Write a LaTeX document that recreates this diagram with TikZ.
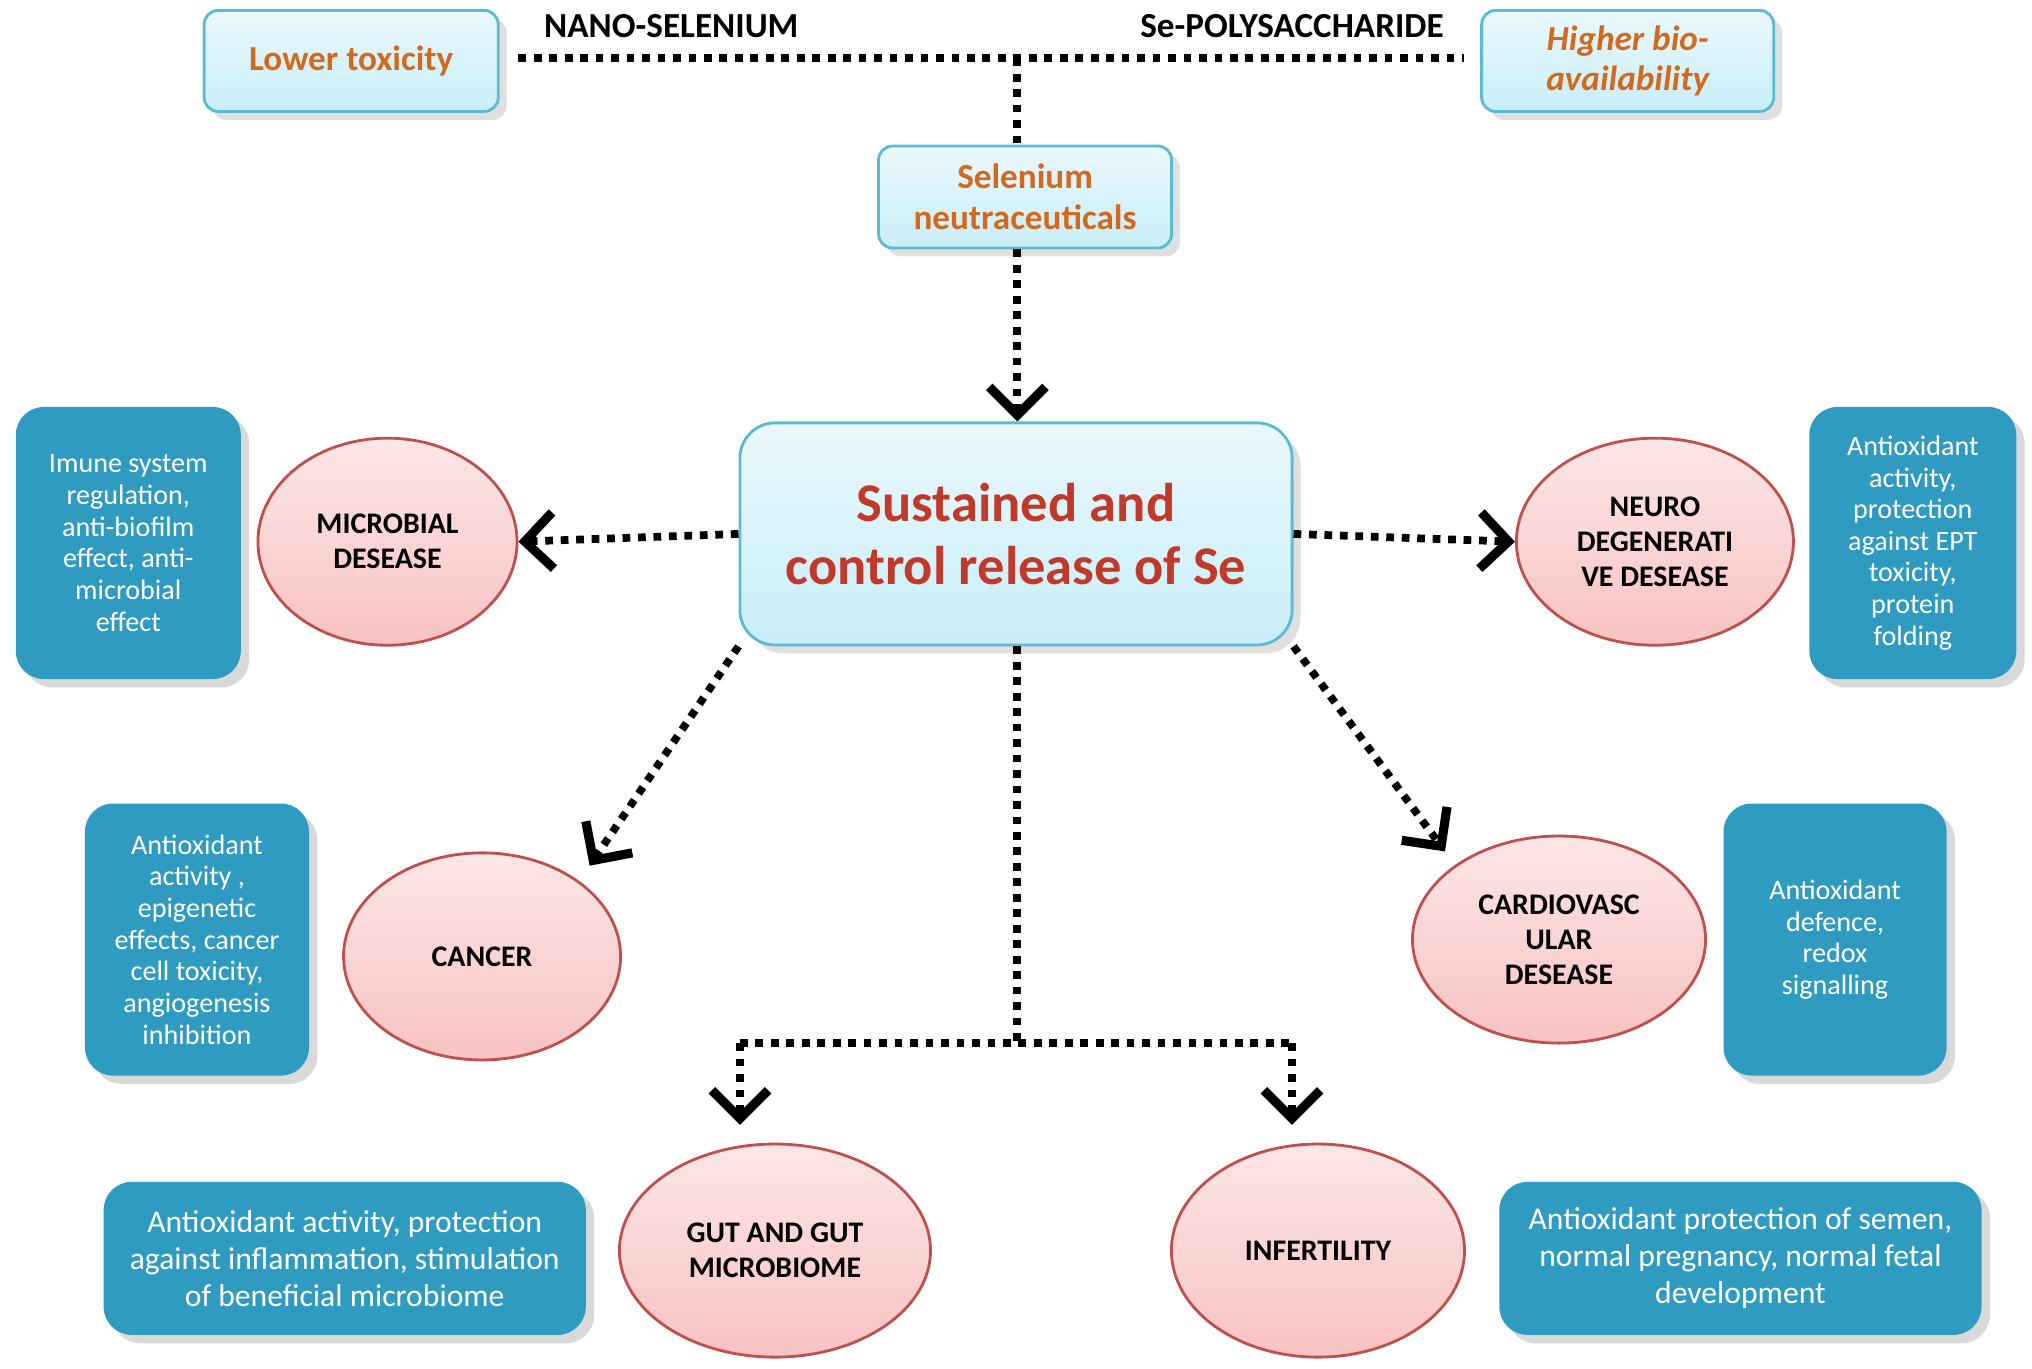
\documentclass[tikz,border=0pt]{standalone}
\usepackage{fontspec}
\setmainfont{Carlito}
\usepackage{tikz}
\usetikzlibrary{shapes.geometric,arrows.meta,positioning,shadows}

\definecolor{boxfill}{HTML}{C9EEF8}
\definecolor{boxline}{HTML}{5BBBD3}
\definecolor{orangetxt}{HTML}{D2691E}
\definecolor{redtxt}{HTML}{C0392B}
\definecolor{tealfill}{HTML}{2F9BC1}
\definecolor{ellfill}{HTML}{F8C2C2}
\definecolor{ellline}{HTML}{C0504D}

\begin{document}
\begin{tikzpicture}[
    x=0.01296cm, y=-0.01296cm,
    lightbox/.style={rectangle, rounded corners=4pt, draw=boxline, thick, top color=boxfill!40, bottom color=boxfill, align=center, drop shadow={opacity=0.25}},
    tealbox/.style={rectangle, rounded corners=8pt, fill=tealfill, text=white, align=center, font=\fontsize{8}{9}\selectfont, drop shadow={opacity=0.3}},
    disease/.style={ellipse, draw=ellline, thick, top color=ellfill!40, bottom color=ellfill, align=center, font=\fontsize{8.5}{10}\selectfont\bfseries},
    dots/.style={line width=2.2pt, dash pattern=on 2.2pt off 2.2pt},
    chev/.style={dots, -{Straight Barb[length=8pt, width=16pt, line width=2.6pt]}},
]
\useasboundingbox (0,0) rectangle (1568,1056);

% Top row
\node[lightbox, minimum width=2.94cm, minimum height=1.01cm, text=orangetxt, font=\fontsize{10}{12}\selectfont\bfseries] (lower) at (271,47) {Lower toxicity};
\node[lightbox, minimum width=2.92cm, minimum height=1.01cm, text=orangetxt, font=\fontsize{10}{11.5}\selectfont\bfseries\itshape] (higher) at (1256,47) {Higher bio-\\availability};
\node[font=\fontsize{10}{12}\selectfont\bfseries] (nano) at (518,20) {NANO-SELENIUM};
\node[font=\fontsize{10}{12}\selectfont\bfseries] (poly) at (997,20) {Se-POLYSACCHARIDE};
\coordinate (lineL) at (400,45);
\coordinate (lineR) at (1130,45);
\coordinate (lineM) at (785,45);
\node[lightbox, minimum width=2.93cm, minimum height=1.02cm, text=orangetxt, font=\fontsize{10}{11.7}\selectfont\bfseries] (selen) at (791,152) {Selenium\\neutraceuticals};

% Centre
\node[lightbox, rounded corners=10pt, minimum width=5.52cm, minimum height=2.22cm, text=redtxt, font=\fontsize{15.5}{18}\selectfont\bfseries] (release) at (784,412) {Sustained and\\control release of Se};

% Diseases
\node[disease, minimum width=2.59cm, minimum height=2.07cm] (microbial) at (299,418) {MICROBIAL\\DESEASE};
\node[disease, minimum width=2.77cm, minimum height=2.07cm] (neuro) at (1277,418) {NEURO\\DEGENERATI\\VE DESEASE};
\node[disease, minimum width=2.77cm, minimum height=2.07cm] (cancer) at (372,738) {CANCER};
\node[disease, minimum width=2.93cm, minimum height=2.07cm] (cardio) at (1203,725) {CARDIOVASC\\ULAR\\DESEASE};
\node[disease, minimum width=3.11cm, minimum height=2.13cm] (gut) at (598,965) {GUT AND GUT\\MICROBIOME};
\node[disease, minimum width=2.93cm, minimum height=2.13cm] (infert) at (1017,965) {INFERTILITY};

% Effects
\node[tealbox, minimum width=2.25cm, minimum height=2.72cm] (immune) at (99,419) {Imune system\\regulation,\\anti-biofilm\\effect, anti-\\microbial\\effect};
\node[tealbox, minimum width=2.07cm, minimum height=2.72cm] (antiox) at (1476,419) {Antioxidant\\activity,\\protection\\against EPT\\toxicity,\\protein\\folding};
\node[tealbox, minimum width=2.24cm, minimum height=2.72cm] (epigen) at (152,725) {Antioxidant\\activity ,\\epigenetic\\effects, cancer\\cell toxicity,\\angiogenesis\\inhibition};
\node[tealbox, minimum width=2.23cm, minimum height=2.72cm] (redox) at (1416,725) {Antioxidant\\defence,\\redox\\signalling};
\node[tealbox, minimum width=4.82cm, minimum height=1.53cm, font=\fontsize{9}{10.5}\selectfont] (inflam) at (266,971) {Antioxidant activity, protection\\against inflammation, stimulation\\of beneficial microbiome};
\node[tealbox, minimum width=4.82cm, minimum height=1.53cm, font=\fontsize{9}{10.5}\selectfont] (semen) at (1343,971) {Antioxidant protection of semen,\\normal pregnancy, normal fetal\\development};

% Connectors
\draw[dots] (lineL) -- (lineR);
\draw[dots] (lineM) -- (selen.north -| lineM);
\draw[chev] (selen.south -| lineM) -- (release.north -| lineM);
\draw[chev] (release.west) -- (microbial.east);
\draw[chev] (release.east) -- (neuro.west);
\draw[chev] (release.south west) -- (455,668);
\draw[chev] (release.south east) -- (1115,657);
\coordinate (split) at (785,805);
\coordinate (splitL) at (571,805);
\coordinate (splitR) at (997,805);
\draw[dots] (release.south -| split) -- (split);
\draw[dots] (splitL) -- (splitR);
\draw[chev] (splitL) -- ++(0,63);
\draw[chev] (splitR) -- ++(0,63);
\end{tikzpicture}
\end{document}
